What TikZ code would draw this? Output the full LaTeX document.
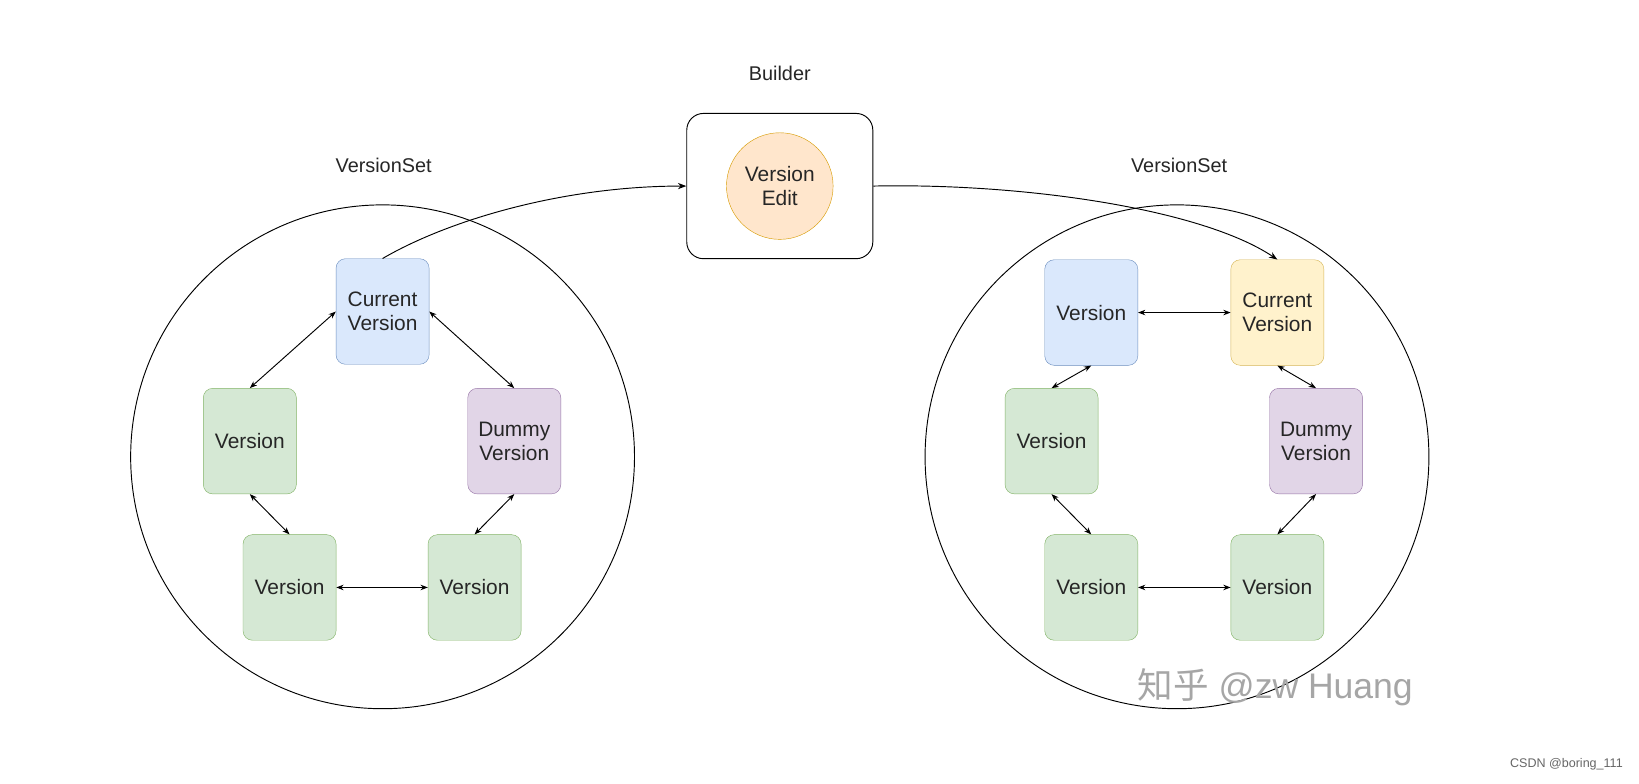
\documentclass[tikz,border=0pt]{standalone}
\usepackage{fontspec}
\setmainfont{Liberation Sans}
\newfontfamily\cjk{Noto Sans CJK SC}
\usetikzlibrary{arrows.meta}
\definecolor{bF}{HTML}{DAE8FC}\definecolor{bD}{HTML}{6C8EBF}
\definecolor{gF}{HTML}{D5E8D4}\definecolor{gD}{HTML}{82B366}
\definecolor{pF}{HTML}{E1D5E7}\definecolor{pD}{HTML}{9673A6}
\definecolor{yF}{HTML}{FFF2CC}\definecolor{yD}{HTML}{D6B656}
\definecolor{oF}{HTML}{FFE6CC}\definecolor{oD}{HTML}{D79B00}
\begin{document}
\begin{tikzpicture}[x=1pt,y=-1pt,
  box/.style={draw,rounded corners=9pt,minimum width=89pt,minimum height=101pt,align=center,font=\fontsize{20}{23}\selectfont,text=black!85},
  blue/.style={box,fill=bF,draw=bD},
  green/.style={box,fill=gF,draw=gD},
  purp/.style={box,fill=pF,draw=pD},
  yel/.style={box,fill=yF,draw=yD},
  lbl/.style={font=\fontsize{19}{22}\selectfont,text=black!85},
  da/.style={{Stealth[length=7pt]}-{Stealth[length=7pt]},line width=0.9pt},
  sa/.style={-{Stealth[length=8pt]},line width=0.9pt}]
\useasboundingbox (0,0) rectangle (1568,750);
\fill[white] (0,0) rectangle (1568,750);
\node[draw,circle,minimum size=482pt,line width=0.9pt] (LC) at (366,437) {};
\node[draw,circle,minimum size=482pt,line width=0.9pt] (RC) at (1126,437) {};
\node[lbl] (lb) at (746,70) {Builder};
\node[lbl] (lv) at (367,158) {VersionSet};
\node[lbl] (rv) at (1128,158) {VersionSet};
\node[draw,rounded corners=16pt,minimum width=178pt,minimum height=139pt,line width=0.9pt] (B) at (746,178) {};
\node[draw=oD,fill=oF,circle,minimum size=102pt,align=center,font=\fontsize{20}{23}\selectfont,text=black!85] (E) at (746,178) {Version\\Edit};
% left
\node[blue] (lc) at (366,298) {Current\\Version};
\node[green] (l1) at (239,422) {Version};
\node[purp] (ld) at (492,422) {Dummy\\Version};
\node[green] (l2) at (277,562) {Version};
\node[green] (l3) at (454,562) {Version};
\draw[da] (lc.west) -- (l1.north);
\draw[da] (lc.east) -- (ld.north);
\draw[da] (l1.south) -- (l2.north);
\draw[da] (ld.south) -- (l3.north);
\draw[da] (l2.east) -- (l3.west);
% right
\node[blue] (rb) at (1044,299) {Version};
\node[yel] (rc) at (1222,299) {Current\\Version};
\node[green] (r1) at (1006,422) {Version};
\node[purp] (rd) at (1259,422) {Dummy\\Version};
\node[green] (r2) at (1044,562) {Version};
\node[green] (r3) at (1222,562) {Version};
\draw[da] (rb.east) -- (rc.west);
\draw[da] (rb.south) -- (r1.north);
\draw[da] (rc.south) -- (rd.north);
\draw[da] (r1.south) -- (r2.north);
\draw[da] (rd.south) -- (r3.north);
\draw[da] (r2.east) -- (r3.west);
% builder arrows
\draw[sa] (lc.north) .. controls (430,210) and (540,178) .. (B.west);
\draw[sa] (B.east) .. controls (980,175) and (1150,200) .. (rc.north);
% watermarks
\node[text=black!35,font=\fontsize{34}{38}\selectfont] (wm) at (1220,657) {{\cjk 知乎} @zw Huang};
\node[text=black!60,font=\fontsize{12}{14}\selectfont,anchor=east] (cs) at (1556,731) {CSDN @boring\_111};
\end{tikzpicture}
\end{document}
